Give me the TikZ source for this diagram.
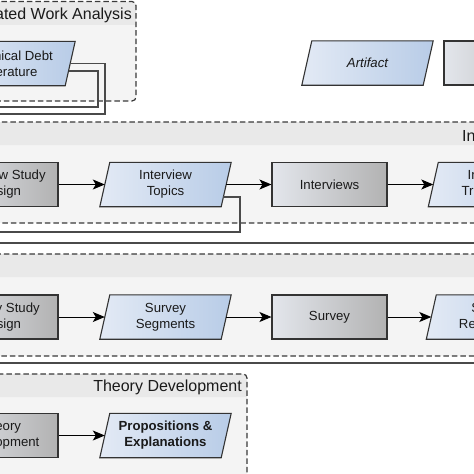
\documentclass[tikz,border=0pt]{standalone}
\usepackage{fontspec}
\setmainfont{Liberation Sans}
\usetikzlibrary{arrows.meta,calc}
\definecolor{grpfill}{HTML}{F4F4F4}
\definecolor{grpband}{HTML}{E9E9E9}
\definecolor{grpline}{HTML}{3A3A3A}
\definecolor{bdr}{HTML}{333333}
\definecolor{artL}{HTML}{E3EAF5}
\definecolor{artR}{HTML}{B8CCE7}
\definecolor{prcL}{HTML}{E3E6EC}
\definecolor{prcR}{HTML}{B2B2B2}
\definecolor{fbcol}{HTML}{4A4A4A}
\definecolor{txt}{HTML}{1A1A1A}
\pgfdeclarelayer{groups}
\pgfdeclarelayer{shapes}
\pgfsetlayers{groups,shapes,main}
\tikzset{
  lbl/.style={font=\fontsize{13.2}{16}\selectfont, text=txt, align=center},
  process/.style={lbl, draw=bdr, line width=1.1pt, left color=prcL, right color=prcR,
    minimum width=115pt, minimum height=44pt, inner sep=0pt},
  artifact/.style={lbl, minimum width=121pt, minimum height=44pt, inner sep=0pt},
  artshape/.style={draw=bdr, line width=1.1pt, left color=artL, right color=artR},
  grpbox/.style={draw=grpline, line width=1.2pt, dash pattern=on 5.5pt off 3pt, rounded corners=4pt},
  grptitle/.style={font=\fontsize{16}{19}\selectfont, text=txt, inner sep=0pt},
  arr/.style={draw=black, line width=1pt, -{Stealth[length=12pt,width=10pt,inset=3pt]}},
  fbline/.style={draw=fbcol, line width=1.6pt},
}
\newcommand\paral[1]{%
  \begin{pgfonlayer}{shapes}
    \path[artshape] ($(#1.north west)+(5,0)$) -- ($(#1.north east)+(5,0)$) --
      ($(#1.south east)+(-5,0)$) -- ($(#1.south west)+(-5,0)$) -- cycle;
  \end{pgfonlayer}}
\newcommand\grp[4]{%
  \begin{pgfonlayer}{groups}
    \fill[grpfill, rounded corners=4pt] (#1,#2) rectangle (#3,#4);
    \fill[grpband, rounded corners=4pt] (#1,#2) rectangle (#3,#2+23);
    \fill[grpband] (#1,#2+10) rectangle (#3,#2+23);
    \draw[grpbox] (#1,#2) rectangle (#3,#4);
  \end{pgfonlayer}}
\begin{document}
\begin{tikzpicture}[x=1pt, y=-1pt]
\useasboundingbox (0,0) rectangle (474,474);

% groups
\grp{-200}{1.5}{136}{101}
\grp{-200}{122}{700}{223}
\grp{-200}{254}{700}{356}
\grp{-200}{374}{247}{620}
\node[grptitle, anchor=base east] (t1) at (132,19.5) {Related Work Analysis};
\node[grptitle, anchor=base west] (t2) at (462,141) {Interview Study};
\node[grptitle, anchor=base east] (t4) at (242,391) {Theory Development};

% related work
\node[artifact] (lit) at (9.5,63.5) {Technical Debt\\Literature}; \paral{lit}

% legend
\node[artifact] (art) at (367.5,63) {\itshape Artifact}; \paral{art}
\node[process] (proc) at (501.5,63) {};

% interview row
\node[process] (isd) at (0.5,184.5) {Interview Study\\Design};
\node[artifact] (it) at (165.5,184.5) {Interview\\Topics}; \paral{it}
\node[process] (iv) at (329.5,184.5) {Interviews};
\node[artifact] (itr) at (494,184.5) {Interview\\Transcripts}; \paral{itr}

% survey row
\node[process] (ssd) at (0.5,317) {Survey Study\\Design};
\node[artifact] (ss) at (165.5,317) {Survey\\Segments}; \paral{ss}
\node[process] (sv) at (329.5,317) {Survey};
\node[artifact] (sr) at (492,317) {Survey\\Responses}; \paral{sr}

% theory row
\node[process] (tdp) at (0.5,435.5) {Theory\\Development};
\node[artifact] (pe) at (165.5,435.5) {\bfseries Propositions \&\\\bfseries Explanations}; \paral{pe}

% arrows
\draw[arr] (isd) -- (it);
\draw[arr] (it) -- (iv);
\draw[arr] (iv) -- (itr);
\draw[arr] (ssd) -- (ss);
\draw[arr] (ss) -- (sv);
\draw[arr] (sv) -- (sr);
\draw[arr] (tdp) -- (pe);

% feedback lines
\coordinate (fa) at (-10,114);
\coordinate (fb) at (-10,107);
\coordinate (fc) at (-10,232);
\coordinate (la) at (-10,243);
\coordinate (lb) at (484,243);
\coordinate (lc) at (-10,363);
\coordinate (ld) at (484,363);
\draw[fbline] (lit.east) -- (105,63.5) -- (105,114) -- (fa);
\draw[fbline] ($(lit.east)+(-1.7,7.5)$) -- (98,71) -- (98,107) -- (fb);
\draw[fbline] ($(it.east)+(-2.8,12.5)$) -- (240,197) -- (240,232) -- (fc);
\draw[fbline] (la) -- (lb);
\draw[fbline] (lc) -- (ld);
\end{tikzpicture}
\end{document}
